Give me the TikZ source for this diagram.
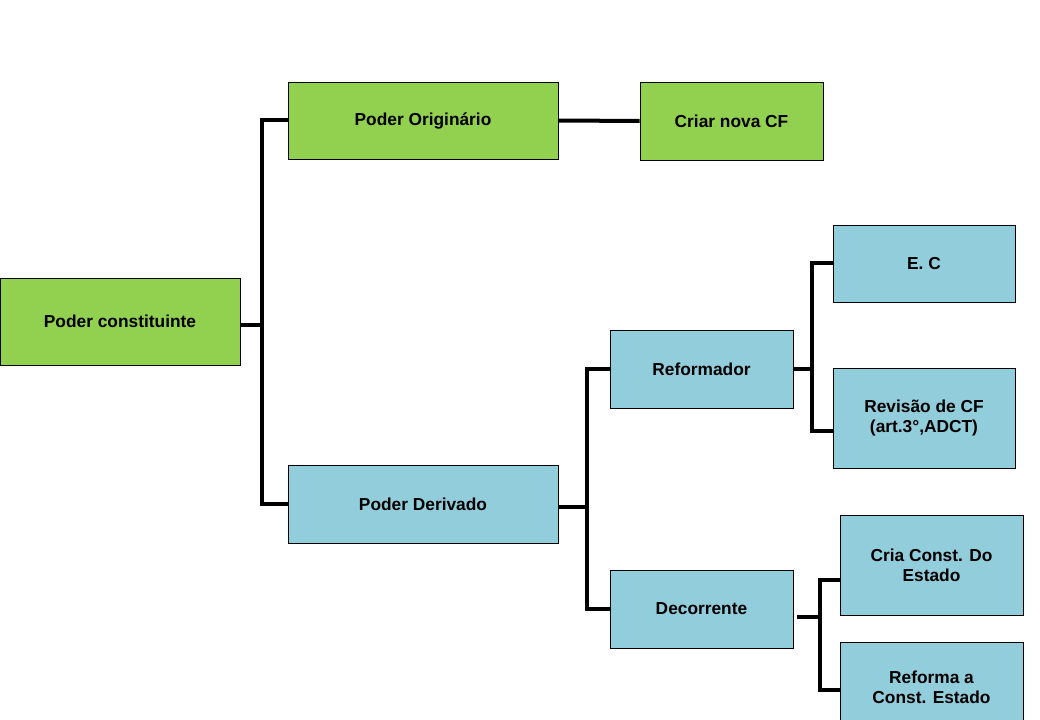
\documentclass[tikz,border=0pt]{standalone}
\usepackage{fontspec}
\setmainfont{Liberation Sans}
\begin{document}
\begin{tikzpicture}[x=0.75pt,y=-0.75pt,
 bx/.style={draw=black,line width=0.6pt,minimum width=#1*0.75pt,align=center,inner sep=0pt,font=\bfseries\fontsize{13}{15}\selectfont},
 g/.style={fill={rgb,255:red,146;green,208;blue,80}},
 b/.style={fill={rgb,255:red,146;green,205;blue,220}},
 ln/.style={line width=3pt}]
\useasboundingbox (0,0) rectangle (1040,720);
\node[bx=240,g,minimum height=87*0.75pt] (pc) at (120,321.5) {Poder constituinte};
\node[bx=270,g,minimum height=77*0.75pt] (po) at (423,120.5) {Poder Originário};
\node[bx=183,g,minimum height=78*0.75pt] (cn) at (731.5,121) {Criar nova CF};
\node[bx=270,b,minimum height=78*0.75pt] (pd) at (423,504) {Poder Derivado};
\node[bx=183,b,minimum height=78*0.75pt] (rf) at (701.5,369) {Reformador};
\node[bx=183,b,minimum height=78*0.75pt] (dc) at (701.5,609) {Decorrente};
\node[bx=182,b,minimum height=77*0.75pt] (ec) at (924,263.5) {E. C};
\node[bx=182,b,minimum height=100*0.75pt] (rv) at (924,418) {Revisão de CF\\(art.3°,ADCT)};
\node[bx=183,b,minimum height=100*0.75pt] (cc) at (931.5,565) {Cria Const. Do\\Estado};
\node[bx=183,b,minimum height=90*0.75pt] (ra) at (931.5,687) {Reforma a\\Const. Estado};
\coordinate (j1) at (262,325);
\coordinate (j2) at (587,507);
\coordinate (j3) at (812,369);
\coordinate (j4) at (820,617);
\draw[ln] (pc.east|-j1) -- (j1);
\draw[ln] (j1) |- (po.west);
\draw[ln] (j1) |- (pd.west);
\draw[ln] (po.east) -- (cn.west);
\draw[ln] (pd.east|-j2) -- (j2);
\draw[ln] (j2) |- (rf.west);
\draw[ln] (j2) |- (dc.west);
\draw[ln] (rf.east|-j3) -- (j3);
\draw[ln] (j3) |- (ec.west);
\draw[ln] (j3) |- ([yshift=-13*0.75pt]rv.west);
\draw[ln] ([xshift=4*0.75pt]dc.east|-j4) -- (j4);
\draw[ln] (j4) |- ([yshift=-15*0.75pt]cc.west);
\draw[ln] (j4) |- ([yshift=-3*0.75pt]ra.west);
\end{tikzpicture}
\end{document}
